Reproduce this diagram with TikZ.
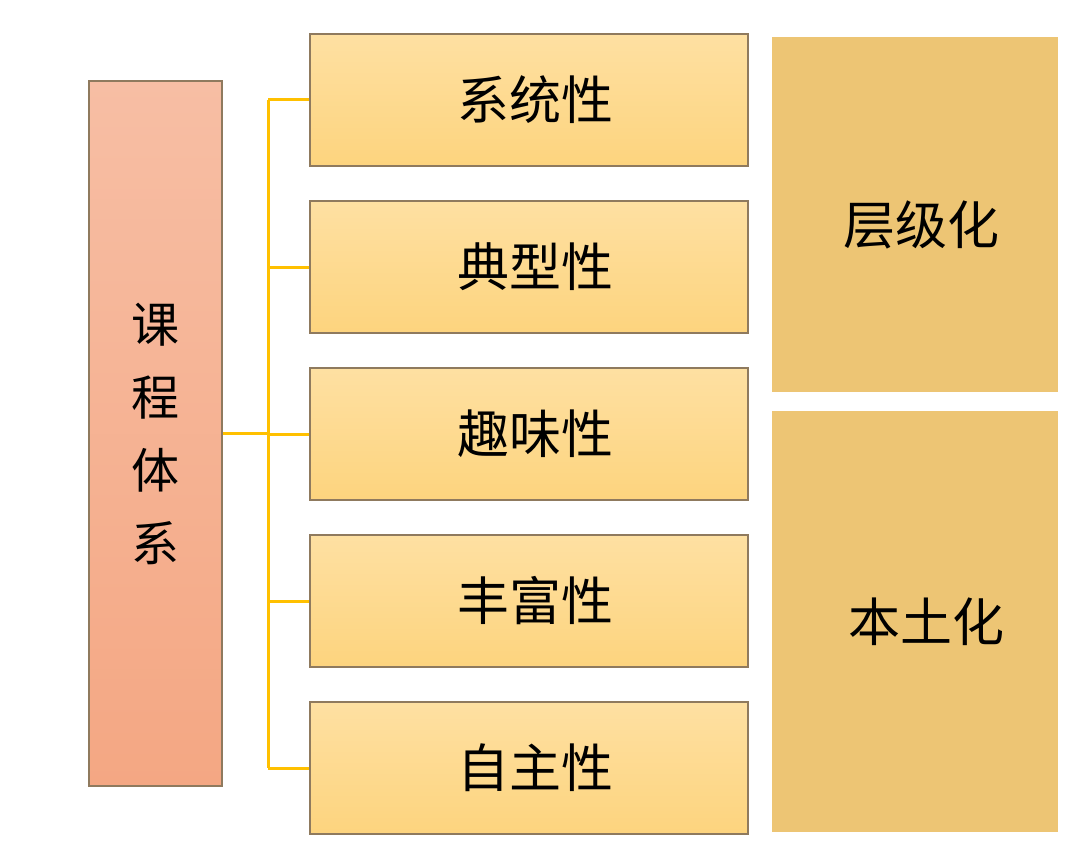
\documentclass[tikz,border=0pt]{standalone}
\usepackage{fontspec}
\setmainfont{Noto Sans CJK SC}
\usetikzlibrary{positioning}

\begin{document}
\begin{tikzpicture}[
    x=1pt, y=1pt,
    node distance=33.8pt and 10pt,
    mainblock/.style={
        rectangle, draw=edgebrown, line width=1.5pt,
        top color=salmontop, bottom color=salmonbot,
        minimum width=133pt, minimum height=705pt,
        align=center, inner sep=0pt,
        font=\fontsize{48}{73}\selectfont
    },
    traitblock/.style={
        rectangle, draw=edgebrown, line width=1.2pt,
        top color=goldtop, bottom color=goldbot,
        minimum width=438pt, minimum height=132pt,
        align=center, inner sep=0pt,
        font=\fontsize{52}{60}\selectfont
    },
    sideblock/.style={
        rectangle, draw=none, fill=sand,
        minimum width=286pt, align=center, inner sep=0pt,
        font=\fontsize{52}{60}\selectfont
    },
    link/.style={draw=linkgold, line width=3pt}
]
\definecolor{sand}{HTML}{EDC574}
\definecolor{linkgold}{HTML}{FFC000}
\definecolor{edgebrown}{HTML}{8F7A5E}
\definecolor{salmontop}{HTML}{F7BEA4}
\definecolor{salmonbot}{HTML}{F4A783}
\definecolor{goldtop}{HTML}{FEE0A2}
\definecolor{goldbot}{HTML}{FDD47E}
\useasboundingbox (0,0) rectangle (1080,-856);

% Left: the course system
\node[mainblock] (course) at (155.5,-433.5) {课\\程\\体\\系};

% Middle: the five traits
\node[traitblock] (sys) at (529,-100) {\hspace*{12pt}系统性};
\node[traitblock, below=of sys] (typ) {\hspace*{12pt}典型性};
\node[traitblock, below=of typ] (fun) {\hspace*{12pt}趣味性};
\node[traitblock, below=of fun] (rich) {\hspace*{12pt}丰富性};
\node[traitblock, below=of rich] (auto) {\hspace*{12pt}自主性};

% Right: the two aims
\node[sideblock, minimum height=355pt] (tier) at (915,-214.5)
    {\hspace*{12pt}\raisebox{-30pt}[0pt][0pt]{层级化}};
\node[sideblock, minimum height=421pt] (local) at (915,-621.5)
    {\hspace*{22pt}本土化};

% ------------------------------- Links ---------------------------------------
\coordinate (trunk) at (268,-433.5);
\draw[link] (course.east) -- (trunk);
\draw[link] (trunk |- sys.west) -- (trunk |- auto.west);
\foreach \n in {sys,typ,fun,rich,auto}
    \draw[link] (trunk |- \n.west) -- (\n.west);

\end{tikzpicture}
\end{document}
